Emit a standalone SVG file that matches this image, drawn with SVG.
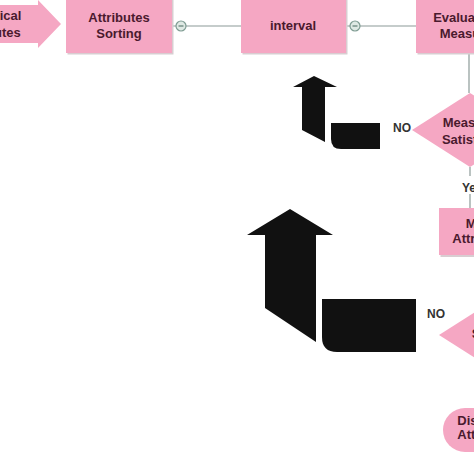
<svg xmlns="http://www.w3.org/2000/svg" width="474" height="474" viewBox="0 0 474 474">
<style>
.n{fill:#f5a7c3}
.sh{fill:#d8cdd1}
.t{font-family:"Liberation Sans",Arial,sans-serif;font-weight:bold;font-size:13px;fill:#4a1a2e;text-anchor:middle}
.lb{font-family:"Liberation Sans",Arial,sans-serif;font-weight:bold;font-size:12px;fill:#333}
.c{stroke:#8c9a98;stroke-width:1.2;fill:none}
.k{fill:#111}
.cc{fill:#dfe9e4;stroke:#7f9c93;stroke-width:1.2}
</style>
<rect width="474" height="474" fill="#fff"/>
<g id="connectors">
<line class="c" x1="172" y1="26" x2="241" y2="26"/>
<line class="c" x1="346" y1="26" x2="416" y2="26"/>
<line class="c" x1="469" y1="53" x2="469" y2="93"/>
<line class="c" x1="470" y1="167" x2="470" y2="176"/>
<line class="c" x1="470" y1="194" x2="470" y2="208"/>
<circle class="cc" cx="181" cy="26" r="5"/>
<line x1="178.5" y1="26" x2="183.5" y2="26" stroke="#5f7d74" stroke-width="1.2"/>
<circle class="cc" cx="355" cy="26" r="5"/>
<line x1="352.5" y1="26" x2="357.5" y2="26" stroke="#5f7d74" stroke-width="1.2"/>
<text class="lb" x="462" y="192">Yes</text>
<text class="lb" x="393" y="132">NO</text>
<text class="lb" x="427" y="318">NO</text>
</g>
<g id="arrow-small">
<path class="k" d="M314,76 L337,87 L325,87 L325,142 L302,130 L302,87 L293,87 Z"/>
<path class="k" d="M331,123 L380,123 L380,149 L341,149 Q331,149 331,139 Z"/>
</g>
<g id="arrow-big">
<path class="k" d="M290,209 L333,235 L316,235 L316,342 L265,308 L265,235 L247,235 Z"/>
<path class="k" d="M322,299 L416,299 L416,352 L337,352 Q322,352 322,337 Z"/>
</g>
<g id="numerical">
<path class="n" d="M-20,5 L38,5 L38,0 L61,24 L38,48 L38,43 L-20,43 Z"/>
<text class="t" x="-10" y="20">Numerical</text>
<text class="t" x="-10" y="36.5">Attributes</text>
</g>
<g id="sorting">
<rect class="sh" x="67.5" y="-2" width="106" height="56.5"/>
<rect class="n" x="66" y="-3" width="106" height="56"/>
<text class="t" x="119" y="22">Attributes</text>
<text class="t" x="119" y="38">Sorting</text>
</g>
<g id="interval">
<rect class="sh" x="242.5" y="-2" width="105" height="56.5"/>
<rect class="n" x="241" y="-3" width="105" height="56"/>
<text class="t" x="293" y="30">interval</text>
</g>
<g id="evaluation">
<rect class="sh" x="417.5" y="-2" width="100" height="56.5"/>
<rect class="n" x="416" y="-3" width="100" height="56"/>
<text class="t" x="466" y="22">Evaluation</text>
<text class="t" x="466" y="38">Measure</text>
</g>
<g id="satisfied">
<path class="n" d="M412,130 L470,93 L528,130 L470,167 Z"/>
<text class="t" x="469" y="127">Measure</text>
<text class="t" x="473" y="144">Satisfied?</text>
</g>
<g id="merge">
<rect class="sh" x="440.5" y="209" width="95" height="48"/>
<rect class="n" x="439" y="208" width="95" height="47"/>
<text class="t" x="485" y="228">Merge</text>
<text class="t" x="483" y="243">Attributes</text>
</g>
<g id="stop">
<path class="n" d="M439,335 L497,298 L555,335 L497,372 Z"/>
<text class="t" x="500" y="338">Stopping</text>
</g>
<g id="discretized">
<rect class="n" x="443" y="408" width="90" height="44" rx="22"/>
<text class="t" x="492" y="425">Discretized</text>
<text class="t" x="488" y="439">Attributes</text>
</g>
</svg>
